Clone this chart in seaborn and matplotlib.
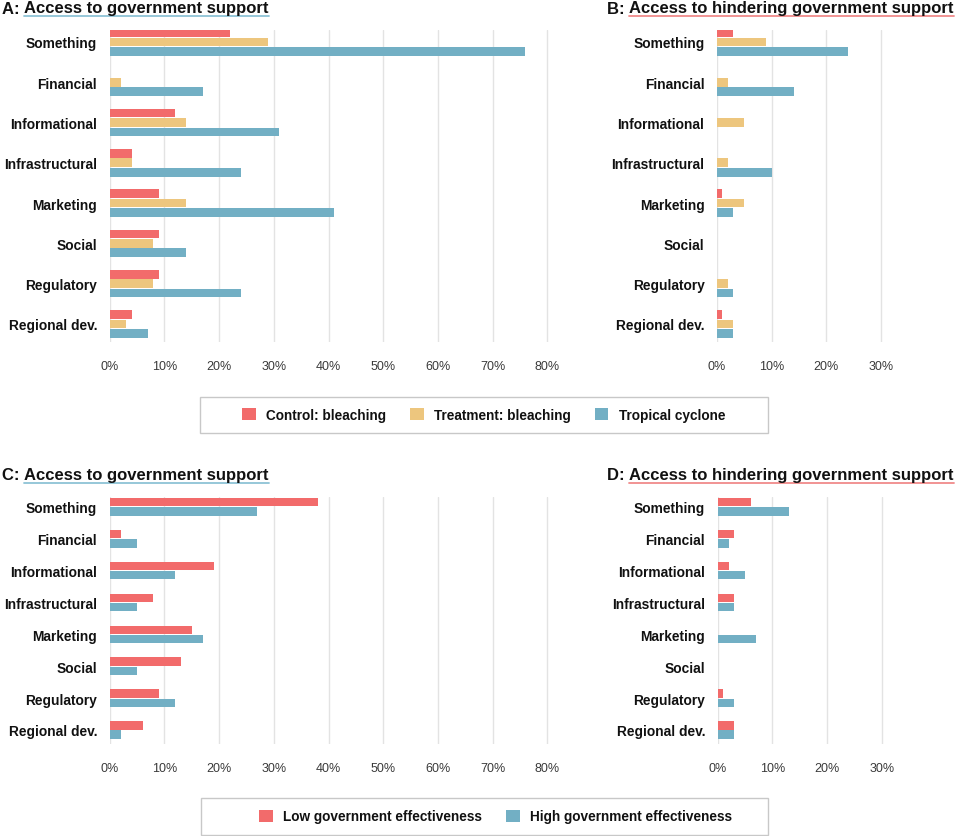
import numpy as np
import pandas as pd
import matplotlib.pyplot as plt
from matplotlib.patches import Patch, Rectangle
from matplotlib.lines import Line2D
from matplotlib.ticker import PercentFormatter
import seaborn as sns

categories = ['Something', 'Financial', 'Informational', 'Infrastructural',
              'Marketing', 'Social', 'Regulatory', 'Regional dev.']

# panel A / B groups
groups_ab = ['Control: bleaching', 'Treatment: bleaching', 'Tropical cyclone']
a_control = [22, 0, 12, 4, 9, 9, 9, 4]
a_treatment = [29, 2, 14, 4, 14, 8, 8, 3]
a_cyclone = [76, 17, 31, 24, 41, 14, 24, 7]
b_control = [3, 0, 0, 0, 1, 0, 0, 1]
b_treatment = [9, 2, 5, 2, 5, 0, 2, 3]
b_cyclone = [24, 14, 0, 10, 3, 0, 3, 3]

# panel C / D groups
groups_cd = ['Low government effectiveness', 'High government effectiveness']
c_low = [38, 2, 19, 8, 15, 13, 9, 6]
c_high = [27, 5, 12, 5, 17, 5, 12, 2]
d_low = [6, 3, 2, 3, 0, 0, 1, 3]
d_high = [13, 2, 5, 3, 7, 0, 3, 3]

RED = '#F26B6B'
YELLOW = '#EDC67E'
BLUE = '#72AFC4'

sns.set_theme(style='white')
plt.rcParams['font.family'] = ['Liberation Sans', 'DejaVu Sans']


def long_df(series, names):
    frames = []
    for vals, name in zip(series, names):
        frames.append(pd.DataFrame({'category': categories,
                                    'value': np.array(vals) / 100.0,
                                    'group': name}))
    return pd.concat(frames, ignore_index=True)


def draw_panel(ax, df, names, colors, xmax, ticks, width, gap):
    sns.barplot(data=df, y='category', x='value', hue='group', order=categories,
                hue_order=names, palette=colors, orient='h', width=width, gap=gap,
                saturation=1, legend=False, ax=ax, zorder=3, linewidth=0)
    ax.set_xlim(0, xmax)
    ax.set_ylim(7.45, -0.3)
    ax.set_xticks(ticks)
    ax.xaxis.set_major_formatter(PercentFormatter(1.0, decimals=0))
    ax.grid(axis='x', color='#E3E3E3', linewidth=1, zorder=0)
    ax.grid(axis='y', visible=False)
    for s in ax.spines.values():
        s.set_visible(False)
    ax.set_xlabel('')
    ax.set_ylabel('')
    ax.tick_params(axis='x', length=0, pad=13, labelsize=9, labelcolor='#3a3a3a')
    ax.tick_params(axis='y', length=0, pad=9, labelsize=9.9, labelcolor='#111111')
    for lab in ax.get_yticklabels():
        lab.set_fontweight('bold')


fig = plt.figure(figsize=(9.6, 8.37), dpi=100)
W, H = 960.0, 837.0


def add_axes(left, top, right, bottom):
    return fig.add_axes([left / W, 1 - bottom / H, (right - left) / W, (bottom - top) / H])


ax_a = add_axes(109.7, 30.9, 109.7 + 83 * 5.47, 343)
ax_b = add_axes(717, 30.9, 717 + 39 * 5.47, 343)
ax_c = add_axes(109.7, 498.4, 109.7 + 83 * 5.47, 745.3)
ax_d = add_axes(717.7, 498.4, 717.7 + 39 * 5.47, 745.3)

draw_panel(ax_a, long_df([a_control, a_treatment, a_cyclone], groups_ab), groups_ab,
           [RED, YELLOW, BLUE], 0.83, np.arange(0, 0.81, 0.1), 0.7, 0.08)
draw_panel(ax_b, long_df([b_control, b_treatment, b_cyclone], groups_ab), groups_ab,
           [RED, YELLOW, BLUE], 0.39, np.arange(0, 0.31, 0.1), 0.7, 0.08)
draw_panel(ax_c, long_df([c_low, c_high], groups_cd), groups_cd,
           [RED, BLUE], 0.83, np.arange(0, 0.81, 0.1), 0.58, 0.1)
draw_panel(ax_d, long_df([d_low, d_high], groups_cd), groups_cd,
           [RED, BLUE], 0.39, np.arange(0, 0.31, 0.1), 0.58, 0.1)

# panel titles with coloured underline
fig.canvas.draw()
renderer = fig.canvas.get_renderer()


def panel_title(x, y, letter, text, line_color):
    t1 = fig.text(x / W, 1 - y / H, letter + ': ', fontsize=12, fontweight='bold',
                  va='baseline', ha='left', color='#111111')
    bb = t1.get_window_extent(renderer)
    t2 = fig.text(bb.x1 / W, 1 - y / H, text, fontsize=12, fontweight='bold',
                  va='baseline', ha='left', color='#111111')
    bb2 = t2.get_window_extent(renderer)
    yl = 1 - (y + 3.3) / H
    fig.add_artist(Line2D([bb2.x0 / W, bb2.x1 / W], [yl, yl], color=line_color,
                          linewidth=1.3, transform=fig.transFigure))


panel_title(2, 13.5, 'A', 'Access to government support', '#8EC3D6')
panel_title(607, 13.5, 'B', 'Access to hindering government support', '#F08A8A')
panel_title(2, 480.5, 'C', 'Access to government support', '#8EC3D6')
panel_title(607, 480.5, 'D', 'Access to hindering government support', '#F08A8A')


# legends: frameless legend inside a drawn box
def legend_box(handles, ncol, x_first, y_center, box):
    leg = fig.legend(handles=handles, loc='center left',
                     bbox_to_anchor=(x_first / W, 1 - y_center / H), ncol=ncol,
                     frameon=False, borderpad=0, borderaxespad=0,
                     handlelength=1.0, handleheight=1.0, handletextpad=0.76,
                     columnspacing=1.75, prop={'weight': 'bold', 'size': 9.85})
    for txt in leg.get_texts():
        txt.set_color('#111111')
    x0, y0, x1, y1 = box
    fig.add_artist(Rectangle((x0 / W, 1 - y1 / H), (x1 - x0) / W, (y1 - y0) / H,
                             facecolor='none', edgecolor='#C8C8C8', linewidth=1.0,
                             transform=fig.transFigure))
    return leg


h1 = [Patch(facecolor=c, edgecolor='none', label=g) for c, g in zip([RED, YELLOW, BLUE], groups_ab)]
legend_box(h1, 3, 242, 416, (200, 398, 768, 434))

h2 = [Patch(facecolor=c, edgecolor='none', label=g) for c, g in zip([RED, BLUE], groups_cd)]
legend_box(h2, 2, 259, 817.5, (201, 799, 768, 835.5))

fig.savefig('out.png', dpi=100, facecolor='white')
